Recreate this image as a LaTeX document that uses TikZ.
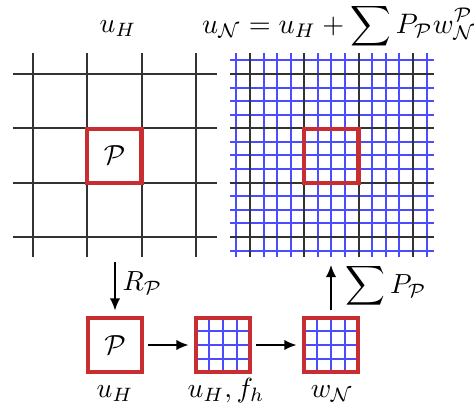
\documentclass[tikz,border=0pt]{standalone}
\usetikzlibrary{arrows.meta}
\definecolor{boxred}{RGB}{200,45,50}
\definecolor{fineblue}{RGB}{75,75,255}
\begin{document}
\begin{tikzpicture}[x=0.362pt,y=-0.362pt,
  gridk/.style={draw=black!80,line width=0.45pt},
  gridb/.style={draw=fineblue,line width=0.45pt},
  redbox/.style={draw=boxred,line width=1.45pt,minimum size=19.55pt,inner sep=0pt},
  arr/.style={-{Latex[length=4.4pt,width=3.8pt]},line width=0.65pt},
  lbl/.style={inner sep=0pt}]
\useasboundingbox (0,0) rectangle (474,413);
% fine grid (right)
\path[gridb]
  \foreach \v in {236,250,264,277,291,304,318,331,345,359,372,386,399,413,427}{
    (\v,53) -- (\v,257)
  }
  \foreach \h in {60,74,88,101,115,128,142,155,169,183,196,210,223,237,251}{
    (230,\h) -- (434,\h)
  };
% coarse grids (left and right)
\path[gridk]
  \foreach \v/\h in {33/74,87/128,142/183,196/237}{
    (\v,53) -- (\v,257)
    (13,\h) -- (217,\h)
  }
  \foreach \v/\h in {250/74,304/128,359/183,413/237}{
    (\v,53) -- (\v,257)
    (230,\h) -- (434,\h)
  };
\node[redbox] (P1) at (114.5,155.5) {$\mathcal{P}$};
\node[redbox] (P2) at (331.5,155.5) {};
% titles
\node[lbl,anchor=base] (tH) at (118,32.5) {$u_H$};
\node[lbl,anchor=base,scale=1.02,transform shape] (tN) at (339,33) {$\displaystyle u_{\mathcal N}=u_H+\sum P_{\mathcal P}w_{\mathcal N}^{\mathcal P}$};
% fine grids in the patch boxes
\path[gridb]
  \foreach \c in {223,331}{
    \foreach \o in {-14,0,14}{
      ({\c+\o},318) -- ({\c+\o},372)
      ({\c-27},{345+\o}) -- ({\c+27},{345+\o})
    }
  };
\node[redbox] (b1) at (115,345) {$\mathcal{P}$};
\node[redbox] (b2) at (223,345) {};
\node[redbox] (b3) at (331,345) {};
\node[lbl,anchor=base] (l1) at (115,397) {$u_H$};
\node[lbl,anchor=base] (l2) at (226,397) {$u_H,f_h$};
\node[lbl,anchor=base] (l3) at (332,397) {$w_{\mathcal N}$};
% connectors
\coordinate (d0) at (115,262);
\coordinate (u0) at (331,265);
\draw[arr,shorten >=2pt] (d0) -- (b1.north);
\draw[arr,shorten <=2pt] (b3.north) -- (u0);
\draw[arr,shorten <=1.5pt,shorten >=2pt] (b1.east) -- (b2.west);
\draw[arr,shorten <=1.5pt,shorten >=2pt] (b2.east) -- (b3.west);
\node[lbl,anchor=base west] (rP) at (122,290) {$R_{\mathcal P}$};
\node[lbl,anchor=base west] (sP) at (345,293) {$\displaystyle\sum P_{\mathcal P}$};
\end{tikzpicture}
\end{document}
